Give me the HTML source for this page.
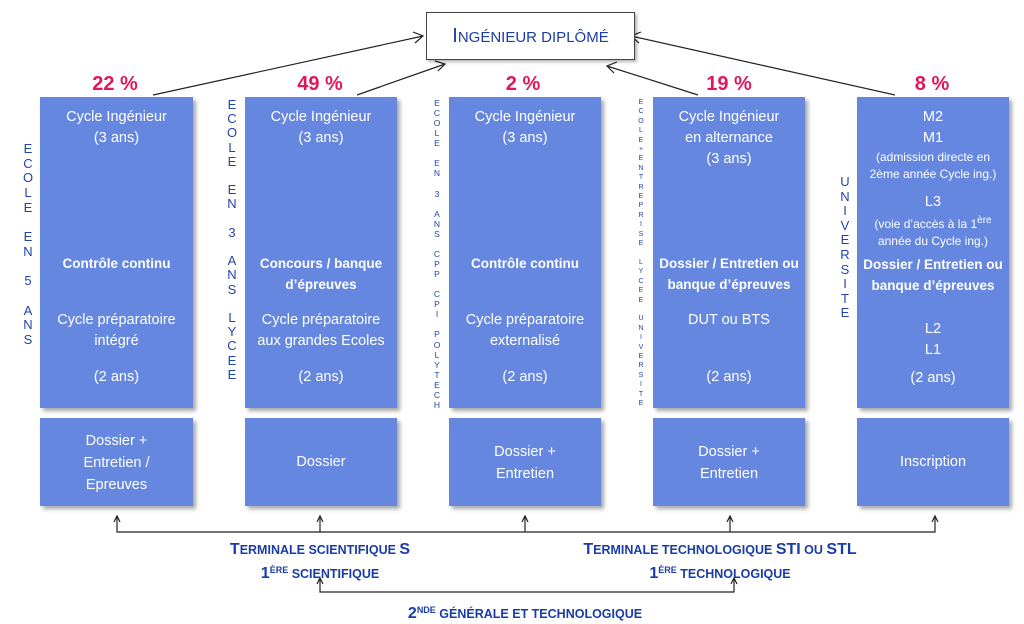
<!DOCTYPE html>
<html><head><meta charset="utf-8"><style>
*{margin:0;padding:0;box-sizing:border-box}
body{width:1024px;height:624px;background:#fff;position:relative;overflow:hidden;font-family:"Liberation Sans",sans-serif}
.b{position:absolute;background:#6587e0;box-shadow:3px 3px 4px rgba(0,0,0,.35);color:#fff;text-align:center;font-size:14.5px;line-height:21px}
.t{position:absolute;left:0;right:0;text-align:center}
.bold{font-weight:bold;font-size:13.5px}
.pc{position:absolute;width:120px;text-align:center;color:#e0185a;font-weight:bold;font-size:20px;top:73px}
.v{position:absolute;text-align:center;color:#2244aa;width:16px}
.cap{position:absolute;text-align:center;color:#1a3ca8;font-weight:bold;font-size:12.5px;text-transform:uppercase;line-height:20px;white-space:nowrap}
.cap b{font-size:16px}
.cap sup{font-size:9px}
sup{font-size:10px}
</style></head><body>
<svg width="1024" height="624" style="position:absolute;left:0;top:0" fill="none" stroke="#222" stroke-width="1.2">
<line x1="153" y1="95" x2="423" y2="36"/><polyline points="413,32 423,36 415,43"/>
<line x1="357" y1="95" x2="445" y2="64"/><polyline points="435,61 445,64 438,71"/>
<line x1="698" y1="95" x2="607" y2="66"/><polyline points="617,62 607,66 614,73"/>
<line x1="895" y1="95" x2="631" y2="36"/><polyline points="641,32 631,36 639,43"/>
<polyline points="117,516 117,532 935,532 935,516"/>
<line x1="320" y1="516" x2="320" y2="532"/><line x1="525" y1="516" x2="525" y2="532"/><line x1="730" y1="516" x2="730" y2="532"/>
<g><polyline points="114,522 117,516 120,522"/><polyline points="317,522 320,516 323,522"/><polyline points="522,522 525,516 528,522"/><polyline points="727,522 730,516 733,522"/><polyline points="932,522 935,516 938,522"/></g>
<polyline points="320,578 320,592 734,592 734,578"/>
<polyline points="317,584 320,578 323,584"/><polyline points="731,584 734,578 737,584"/>
</svg>
<div style="position:absolute;left:426px;top:12px;width:209px;height:48px;border:1px solid #444;background:#fff;box-shadow:2px 2px 3px rgba(0,0,0,.3);text-align:center;line-height:46px;color:#1a3ca8;font-size:15px;white-space:nowrap"><span style="font-size:20px">I</span>NGÉNIEUR DIPLÔMÉ</div>
<div class="pc" style="left:55px">22 %</div><div class="pc" style="left:260px">49 %</div><div class="pc" style="left:463px">2 %</div><div class="pc" style="left:669px">19 %</div><div class="pc" style="left:872px">8 %</div>

<div class="v" style="left:20px;top:142px;font-size:13px;line-height:14.7px">E<br>C<br>O<br>L<br>E<br>&nbsp;<br>E<br>N<br>&nbsp;<br>5<br>&nbsp;<br>A<br>N<br>S</div>
<div class="v" style="left:224px;top:98px;font-size:13px;line-height:14.2px">E<br>C<br>O<br>L<br>E<br>&nbsp;<br>E<br>N<br>&nbsp;<br>3<br>&nbsp;<br>A<br>N<br>S<br>&nbsp;<br>L<br>Y<br>C<br>E<br>E</div>
<div class="v" style="left:429px;top:98px;font-size:8.5px;line-height:10.07px">E<br>C<br>O<br>L<br>E<br>&nbsp;<br>E<br>N<br>&nbsp;<br>3<br>&nbsp;<br>A<br>N<br>S<br>&nbsp;<br>C<br>P<br>P<br>&nbsp;<br>C<br>P<br>I<br>&nbsp;<br>P<br>O<br>L<br>Y<br>T<br>E<br>C<br>H</div>
<div class="v" style="left:633px;top:98px;font-size:7px;line-height:9.4px">E<br>C<br>O<br>L<br>E<br>+<br>E<br>N<br>T<br>R<br>E<br>P<br>R<br>I<br>S<br>E<br>&nbsp;<br>L<br>Y<br>C<br>E<br>E<br>&nbsp;<br>U<br>N<br>I<br>V<br>E<br>R<br>S<br>I<br>T<br>E</div>
<div class="v" style="left:837px;top:175px;font-size:13px;line-height:14.6px">U<br>N<br>I<br>V<br>E<br>R<br>S<br>I<br>T<br>E</div>

<div class="b" style="left:40px;top:97px;width:153px;height:311px">
<div class="t" style="top:10px">Cycle Ingénieur<br>(3 ans)</div>
<div class="t bold" style="top:156px">Contrôle continu</div>
<div class="t" style="top:213px">Cycle préparatoire<br>intégré</div>
<div class="t" style="top:270px">(2 ans)</div></div>
<div class="b" style="left:245px;top:97px;width:152px;height:311px">
<div class="t" style="top:10px">Cycle Ingénieur<br>(3 ans)</div>
<div class="t bold" style="top:156px">Concours / banque<br>d’épreuves</div>
<div class="t" style="top:213px">Cycle préparatoire<br>aux grandes Ecoles</div>
<div class="t" style="top:270px">(2 ans)</div></div>
<div class="b" style="left:449px;top:97px;width:152px;height:311px">
<div class="t" style="top:10px">Cycle Ingénieur<br>(3 ans)</div>
<div class="t bold" style="top:156px">Contrôle continu</div>
<div class="t" style="top:213px">Cycle préparatoire<br>externalisé</div>
<div class="t" style="top:270px">(2 ans)</div></div>
<div class="b" style="left:653px;top:97px;width:152px;height:311px">
<div class="t" style="top:10px">Cycle Ingénieur<br>en alternance<br>(3 ans)</div>
<div class="t bold" style="top:156px">Dossier / Entretien ou<br>banque d’épreuves</div>
<div class="t" style="top:213px">DUT ou BTS</div>
<div class="t" style="top:270px">(2 ans)</div></div>
<div class="b" style="left:857px;top:97px;width:152px;height:311px">
<div class="t" style="top:10px">M2<br>M1</div>
<div class="t" style="top:52px;font-size:12px;line-height:17px">(admission directe en<br>2ème année Cycle ing.)</div>
<div class="t" style="top:95px">L3</div>
<div class="t" style="top:115px;font-size:12px;line-height:17px">(voie d’accès à la 1<sup>ère</sup><br>année du Cycle ing.)</div>
<div class="t bold" style="top:157px">Dossier / Entretien ou<br>banque d’épreuves</div>
<div class="t" style="top:222px">L2<br>L1</div>
<div class="t" style="top:271px">(2 ans)</div></div>

<div class="b" style="left:40px;top:418px;width:153px;height:88px;padding-top:12px;line-height:22px">Dossier +<br>Entretien /<br>Epreuves</div>
<div class="b" style="left:245px;top:418px;width:152px;height:88px;line-height:88px">Dossier</div>
<div class="b" style="left:449px;top:418px;width:152px;height:88px;padding-top:23px;line-height:22px">Dossier +<br>Entretien</div>
<div class="b" style="left:653px;top:418px;width:152px;height:88px;padding-top:23px;line-height:22px">Dossier +<br>Entretien</div>
<div class="b" style="left:857px;top:418px;width:152px;height:88px;line-height:88px">Inscription</div>

<div class="cap" style="left:200px;top:540px;width:240px"><b>T</b>erminale scientifique <b>S</b><br><b>1</b><sup>ère</sup> scientifique</div>
<div class="cap" style="left:570px;top:540px;width:300px"><b>T</b>erminale technologique <b>STI</b> ou <b>STL</b><br><b>1</b><sup>ère</sup> technologique</div>
<div class="cap" style="left:375px;top:600px;width:300px"><b>2</b><sup>nde</sup> générale et technologique</div>
</body></html>
